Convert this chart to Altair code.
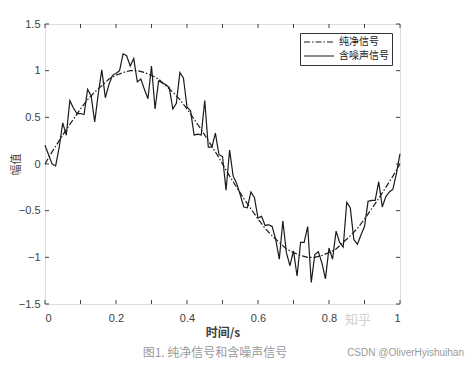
import altair as alt
import pandas as pd

# ---- data ----
t_noisy = [round(i * 0.01, 2) for i in range(101)]
noisy = [0.20, 0.10, 0.00, -0.02, 0.18, 0.44, 0.31, 0.68, 0.60, 0.54,
         0.54, 0.53, 0.80, 0.73, 0.45, 0.75, 1.01, 0.71, 0.85, 0.95,
         0.97, 1.00, 1.18, 1.16, 1.05, 1.13, 0.88, 0.91, 0.80, 0.70,
         1.05, 0.59, 0.89, 0.87, 0.85, 0.82, 0.59, 0.65, 0.98, 0.92,
         0.61, 0.57, 0.31, 0.32, 0.31, 0.68, 0.18, 0.18, 0.33, 0.10,
         0.08, -0.28, 0.15, -0.13, -0.21, -0.33, -0.46, -0.47, -0.30, -0.36,
         -0.58, -0.56, -0.66, -0.65, -0.67, -0.81, -1.02, -0.61, -0.95, -1.09,
         -0.93, -1.20, -0.84, -0.84, -0.67, -1.27, -0.97, -0.94, -1.06, -1.23,
         -0.90, -1.02, -0.72, -0.84, -0.89, -0.41, -0.47, -0.81, -0.86, -0.76,
         -0.67, -0.40, -0.39, -0.39, -0.19, -0.46, -0.35, -0.30, -0.27, -0.10,
         0.11]

t_clean = [round(i * 0.02, 2) for i in range(51)]
clean = [0.00, 0.13, 0.25, 0.37, 0.48, 0.59, 0.69, 0.77, 0.84, 0.91,
         0.95, 0.98, 1.00, 1.00, 0.98, 0.95, 0.91, 0.84, 0.77, 0.69,
         0.59, 0.48, 0.37, 0.25, 0.13, 0.00, -0.13, -0.25, -0.37, -0.48,
         -0.59, -0.69, -0.77, -0.84, -0.91, -0.95, -0.98, -1.00, -1.00, -0.98,
         -0.95, -0.91, -0.84, -0.77, -0.69, -0.59, -0.48, -0.37, -0.25, -0.13,
         0.00]

series_names = ["纯净信号", "含噪声信号"]
x_ticks = [0, 0.1, 0.2, 0.3, 0.4, 0.5, 0.6, 0.7, 0.8, 0.9, 1]
y_ticks = [-1.5, -1, -0.5, 0, 0.5, 1, 1.5]

x_title = "时间/s"
y_title = "幅值"
caption = "图1. 纯净信号和含噪声信号"
credit = "CSDN @OliverHyishuihan"
mark_zh = "知乎"

# ---- build tables ----
df = pd.concat([
    pd.DataFrame({"t": t_clean, "v": clean, "s": series_names[0]}),
    pd.DataFrame({"t": t_noisy, "v": noisy, "s": series_names[1]}),
], ignore_index=True)
xt = pd.DataFrame({"t": x_ticks})
yt = pd.DataFrame({"v": y_ticks})

W, H = 355, 280
AX = "#404040"
FONT = "Liberation Sans"
CJK = "Noto Sans CJK SC"

xs = alt.Scale(domain=[0, 1], nice=False, zero=False)
ys = alt.Scale(domain=[-1.5, 1.5], nice=False, zero=False)

lines = alt.Chart(df).mark_line(color="#1a1a1a", strokeWidth=1.2).encode(
    x=alt.X("t:Q", scale=xs,
            axis=alt.Axis(values=x_ticks, title=x_title, ticks=False, domain=False,
                          grid=False, labelFont=FONT, labelFontSize=11,
                          labelColor=AX, labelPadding=8, format="~g",
                          titleFont=CJK, titleFontSize=12, titleFontWeight="bold",
                          titleColor=AX, titlePadding=4)),
    y=alt.Y("v:Q", scale=ys,
            axis=alt.Axis(values=y_ticks, title=y_title, ticks=False, domain=False,
                          grid=False, labelFont=FONT, labelFontSize=11,
                          labelColor=AX, labelPadding=5, format="~g",
                          titleFont=CJK, titleFontSize=11, titleFontWeight="normal",
                          titleColor=AX, titleX=-29, titleY=H / 2,
                          titleAngle=270, titleAlign="center",
                          titleBaseline="middle")),
    strokeDash=alt.StrokeDash(
        "s:N",
        scale=alt.Scale(domain=series_names, range=[[6, 2, 1.5, 2], [1, 0]]),
        legend=alt.Legend(title=None, orient="none", legendX=255, legendY=9,
                          symbolType="stroke", symbolSize=900, clipHeight=12,
                          symbolStrokeColor="#1a1a1a", symbolStrokeWidth=1.2,
                          labelFont=CJK, labelFontSize=10, labelColor="#222",
                          strokeColor="#333", fillColor="white", padding=3,
                          rowPadding=2, labelOffset=4),
    ),
    detail="s:N",
    order="t:Q",
)

tick_b = alt.Chart(xt).mark_rule(color=AX, strokeWidth=1).encode(
    x=alt.X("t:Q", scale=xs), y=alt.value(H), y2=alt.value(H - 4))
tick_t = alt.Chart(xt).mark_rule(color=AX, strokeWidth=1).encode(
    x=alt.X("t:Q", scale=xs), y=alt.value(0), y2=alt.value(4))
tick_l = alt.Chart(yt).mark_rule(color=AX, strokeWidth=1).encode(
    y=alt.Y("v:Q", scale=ys), x=alt.value(0), x2=alt.value(4))
tick_r = alt.Chart(yt).mark_rule(color=AX, strokeWidth=1).encode(
    y=alt.Y("v:Q", scale=ys), x=alt.value(W), x2=alt.value(W - 4))

cap = alt.Chart(pd.DataFrame({"txt": [caption]})).mark_text(
    font=CJK, fontSize=12, color="#9a9a9a", align="center", baseline="middle"
).encode(text="txt:N", x=alt.value(170), y=alt.value(329))

cred = alt.Chart(pd.DataFrame({"txt": [credit]})).mark_text(
    font=FONT, fontSize=10, color="#9a9a9a", align="right", baseline="middle"
).encode(text="txt:N", x=alt.value(419), y=alt.value(329))

zh = alt.Chart(pd.DataFrame({"txt": [mark_zh]})).mark_text(
    font=CJK, fontSize=13, color="#d0d0d0", align="left", baseline="middle"
).encode(text="txt:N", x=alt.value(300), y=alt.value(296))

chart = alt.layer(tick_b, tick_t, tick_l, tick_r, lines, zh, cap, cred).properties(
    width=W, height=H,
    autosize=alt.AutoSizeParams(type="none"),
    padding={"left": 37, "top": 16, "right": 66, "bottom": 55},
).configure_view(stroke=AX, strokeWidth=1).configure(background="white")

chart.save("out.html", embed_options={"renderer": "svg", "actions": False})
